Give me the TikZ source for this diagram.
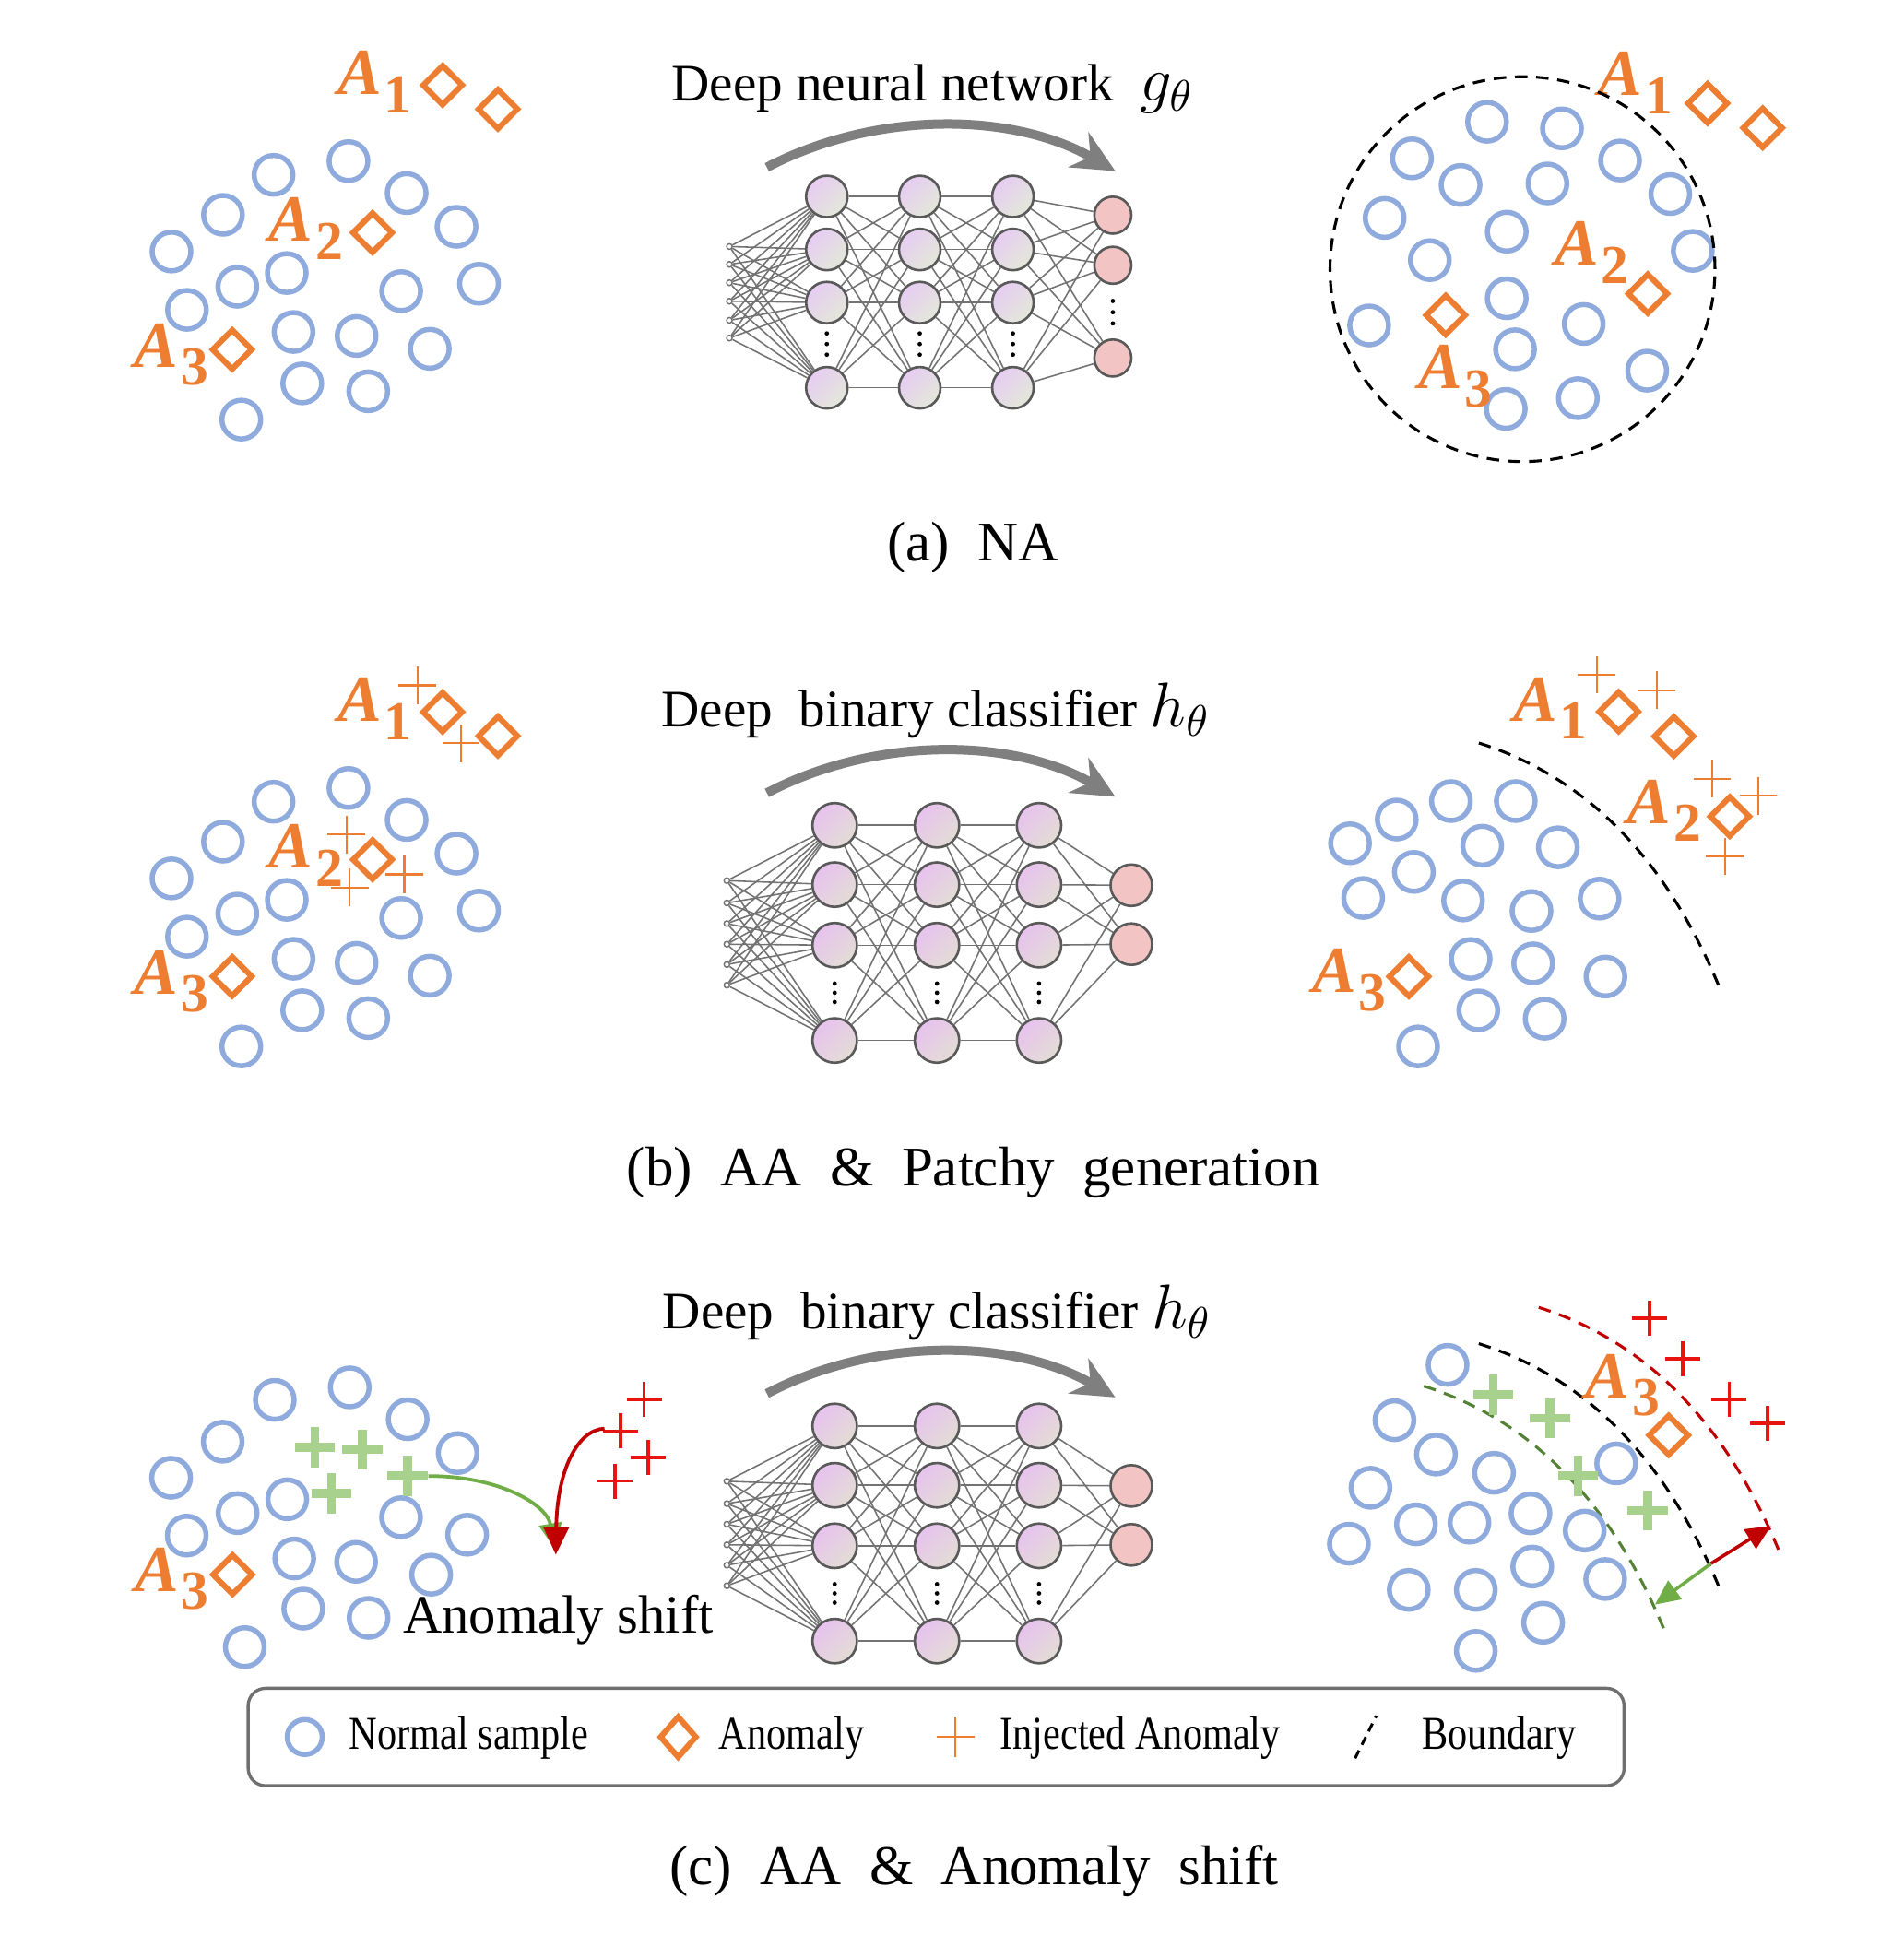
\documentclass[tikz,border=0pt]{standalone}
\usepackage{fontspec}
\setmainfont{Liberation Serif}
\newfontfamily\legendfont[FakeStretch=0.83]{Liberation Serif}
\usetikzlibrary{arrows.meta,shapes.geometric}

\definecolor{nblue}{HTML}{8FAADC}
\definecolor{aorange}{HTML}{ED7D31}
\definecolor{plusgreen}{HTML}{A9D18E}
\definecolor{arrgreen}{HTML}{70AD47}
\definecolor{bndgreen}{HTML}{548235}
\definecolor{darkred}{HTML}{C00000}
\definecolor{plusred}{HTML}{E8140F}
\definecolor{flowgray}{HTML}{7F7F7F}
\definecolor{nnpink}{HTML}{E6CCF2}
\definecolor{nngreen}{HTML}{E3E8D9}
\definecolor{nnpinkb}{HTML}{E7C2EE}
\definecolor{nngreenb}{HTML}{E3DDD5}
\definecolor{nnout}{HTML}{F2C4C4}
\definecolor{nnedge}{HTML}{595959}
\definecolor{wiregray}{HTML}{727272}
\definecolor{legendgray}{HTML}{6F6F6F}

\newcommand{\anomlbl}[1]{\textit{A}\kern0.6pt\raisebox{-0.27em}{\fontsize{12.5}{12}\selectfont #1}}
\newcommand{\bigmath}[1]{{\fontsize{14}{14}\selectfont$#1$}}

\tikzset{
  nsample/.style={circle,draw=nblue,line width=1.15pt,minimum size=0.31cm,inner sep=0},
  anom/.style={diamond,draw=aorange,line width=1.3pt,minimum size=0.33cm,inner sep=0},
  alabel/.style={text=aorange,inner sep=0,anchor=base west,font=\fontsize{15}{18}\selectfont\bfseries},
  inj/.style={draw=aorange,line width=0.45pt},
  gplus/.style={draw=plusgreen,line width=2pt},
  rplus/.style={draw=plusred,line width=0.75pt},
  bound/.style={dash pattern=on 0.1cm off 0.07cm,line width=0.65pt},
  neuron/.style={circle,draw=nnedge,line width=0.55pt,inner sep=0,top color=nnpink,bottom color=nngreen,shading angle=45},
  outn/.style={circle,draw=nnedge,line width=0.55pt,inner sep=0,fill=nnout},
  inpt/.style={circle,draw=wiregray,fill=white,line width=0.3pt,inner sep=0,minimum size=0.045cm},
  wire/.style={draw=wiregray,line width=0.33pt},
  flow/.style={draw=flowgray,line width=2.1pt,-{Stealth[length=0.34cm,width=0.32cm]}},
  nettitle/.style={anchor=base west,inner sep=0,font=\fontsize{12}{14}\selectfont},
  subcap/.style={anchor=base,inner sep=0,font=\fontsize{12.8}{15}\selectfont},
  legtext/.style={anchor=base west,inner sep=0,font=\legendfont\fontsize{10.7}{12}\selectfont},
}

\begin{document}
\begin{tikzpicture}[x=0.01cm,y=-0.01cm]
\path[fill=white] (0,0) rectangle (1524,1568);
\useasboundingbox (0,0) rectangle (1524,1568);

% left data, (a) and (b)
\foreach \p/\dy in {a/0,b/502}{
  \begin{scope}[shift={(0,\dy)}]
    \foreach \x/\y [count=\k] in {219/140,279/129,178.5/172,325.6/154.6,365.5/181.6,137.3/201.4,190/229.6,229.6/218.6,321.2/233.1,383.5/227.2,149.7/248.1,235/265.8,285.5/269,344.1/279.3,242/307,294.8/313.3,193.2/336}
      \node[nsample] (\p-l-\k) at (\x,\y) {};
    \node[anom] (\p-ld-1) at (354.4,68.2) {};
    \node[anom] (\p-ld-2) at (398.7,87.4) {};
    \node[anom] (\p-ld-3) at (298.3,186.3) {};
    \node[anom] (\p-ld-4) at (185.9,279.9) {};
    \node[alabel] (\p-ll-1) at (269.5,76) {\anomlbl{1}};
    \node[alabel] (\p-ll-2) at (214.7,193.2) {\anomlbl{2}};
    \node[alabel] (\p-ll-3) at (107,294.1) {\anomlbl{3}};
  \end{scope}
}
\foreach \x/\y in {334.2/548.9,369.2/595.2,277.4/668.3,280.1/710.6,323.7/700.2}
  \draw[inj] (\x,\y) +(-15,0) -- +(15,0) +(0,-15) -- +(0,15);

% network (a)
\foreach \i/\y in {1/197.4,2/211.7,3/226.4,4/241.2,5/256.5,6/270.7}
  \node[inpt] (a-in-\i) at (584,\y) {};
\foreach \l/\x in {1/662,2/736.4,3/811}
  \foreach \i/\y in {1/157.3,2/199.8,3/242.3,4/310.5}
    \node[neuron,minimum size=0.332cm] (a-h\l-\i) at (\x,\y) {};
\foreach \i/\y in {1/172.3,2/212.4,3/286.7}
  \node[outn,minimum size=0.296cm] (a-o-\i) at (891,\y) {};
\foreach \i in {1,...,6} \foreach \j in {1,...,4} \draw[wire] (a-in-\i) -- (a-h1-\j);
\foreach \l/\m in {1/2,2/3} \foreach \i in {1,...,4} \foreach \j in {1,...,4} \draw[wire] (a-h\l-\i) -- (a-h\m-\j);
\foreach \i in {1,...,4} \foreach \j in {1,...,3} \draw[wire] (a-h3-\i) -- (a-o-\j);
\foreach \x in {662,736.4,811} \foreach \y in {267,275.5,284} \fill (\x,\y) circle [radius=0.5pt];
\foreach \y in {241,250,259} \fill (891,\y) circle [radius=0.5pt];
\coordinate (a-fs) at (614,134);
\coordinate (a-fe) at (893,137);
\draw[flow] (a-fs) .. controls (700,89) and (810,89) .. (a-fe);
\node[nettitle] (a-title) at (537,81) {Deep neural network~~\bigmath{g_\theta}};

% networks (b) and (c)
\foreach \p/\dy in {b/0,c/481}{
  \begin{scope}[shift={(0,\dy)}]
    \foreach \i/\y in {1/705.2,2/723.1,3/739.6,4/756.1,5/772.4,6/788.9}
      \node[inpt] (\p-in-\i) at (582,\y) {};
    \foreach \l/\x in {1/668.3,2/750.2,3/831.9}
      \foreach \i/\y in {1/660.9,2/708.4,3/756.9,4/833.2}
        \node[neuron,top color=nnpinkb,bottom color=nngreenb,shading angle=45,minimum size=0.356cm] (\p-h\l-\i) at (\x,\y) {};
    \foreach \i/\y in {1/708.9,2/756.1}
      \node[outn,minimum size=0.332cm] (\p-o-\i) at (905.8,\y) {};
    \foreach \i in {1,...,6} \foreach \j in {1,...,4} \draw[wire] (\p-in-\i) -- (\p-h1-\j);
    \foreach \l/\m in {1/2,2/3} \foreach \i in {1,...,4} \foreach \j in {1,...,4} \draw[wire] (\p-h\l-\i) -- (\p-h\m-\j);
    \foreach \i in {1,...,4} \foreach \j in {1,2} \draw[wire] (\p-h3-\i) -- (\p-o-\j);
    \foreach \x in {668.3,750.2,831.9} \foreach \y in {787.6,795,802.4} \fill (\x,\y) circle [radius=0.5pt];
    \coordinate (\p-fs) at (614,635);
    \coordinate (\p-fe) at (893,638);
    \draw[flow] (\p-fs) .. controls (700,590) and (810,590) .. (\p-fe);
  \end{scope}
}
\node[nettitle] (b-title) at (529,582) {Deep~~binary classifier \bigmath{h_\theta}};
\node[nettitle] (c-title) at (530,1064) {Deep~~binary classifier \bigmath{h_\theta}};

% right (a)
\foreach \x/\y [count=\k] in {1190.6/97.5,1250.6/102.8,1130.5/126.8,1169.4/148.1,1239/146.9,1297.1/128.5,1337.3/155.4,1108.6/174.5,1206.4/185.5,1144.8/208.3,1355.3/200.9,1206.4/238.8,1096.2/260.6,1268/259.4,1213/279.7,1318.8/296.8,1263.3/318.8,1205.6/327.4}
  \node[nsample] (a-r-\k) at (\x,\y) {};
\node[anom] (a-rd-1) at (1367.2,82.8) {};
\node[anom] (a-rd-2) at (1411.3,102.4) {};
\node[anom] (a-rd-3) at (1319.3,235.2) {};
\node[anom] (a-rd-4) at (1157.5,252.3) {};
\node[alabel] (a-rl-1) at (1279.1,76.7) {\anomlbl{1}};
\node[alabel] (a-rl-2) at (1244.2,212.4) {\anomlbl{2}};
\node[alabel] (a-rl-3) at (1135,311.5) {\anomlbl{3}};
\draw[bound] (1219,215.5) circle [radius=1.54cm];

% right (b)
\foreach \x/\y [count=\k] in {1161.7/641.5,1213.6/641.5,1118.3/656.3,1080.9/675.3,1186.7/677.2,1247.3/678.5,1132/698.2,1091.4/719.1,1171.4/721.1,1226.2/729.5,1280.7/719.6,1177.5/767.9,1227.5/771.4,1285.4/782,1183.6/809.1,1236.7/815.8,1135.4/838}
  \node[nsample] (b-r-\k) at (\x,\y) {};
\node[anom] (b-rd-1) at (1296,570) {};
\node[anom] (b-rd-2) at (1340.2,589.7) {};
\node[anom] (b-rd-3) at (1385,653.8) {};
\node[anom] (b-rd-4) at (1128,782) {};
\node[alabel] (b-rl-1) at (1210.9,577.4) {\anomlbl{1}};
\node[alabel] (b-rl-2) at (1302,659.5) {\anomlbl{2}};
\node[alabel] (b-rl-3) at (1049.8,795) {\anomlbl{3}};
\foreach \x/\y in {1278.3/540.4,1326.3/552.7,1371/623.5,1407.9/637.3,1381/685.9}
  \draw[inj] (\x,\y) +(-15,0) -- +(15,0) +(0,-15) -- +(0,15);
\draw[bound] (1184,595) .. controls (1270,622) and (1335,688) .. (1378,794);

% left (c)
\foreach \x/\y [count=\k] in {220/1121,280/1111,178.3/1154.5,326.4/1136.5,366.4/1163.6,137/1183.4,190.2/1211.7,230/1200.6,321.1/1215,374/1229,149.5/1229.7,235.6/1248,285.1/1250.7,345.2/1261,242.8/1288.2,295.1/1295.6,196/1319}
  \node[nsample] (c-l-\k) at (\x,\y) {};
\node[anom] (c-ld-3) at (186.2,1261) {};
\node[alabel] (c-ll-3) at (107.3,1274.6) {\anomlbl{3}};
\foreach \x/\y in {252/1159,290/1161,326.4/1182,265.4/1196}
  \draw[gplus] (\x,\y) +(-16,0) -- +(16,0) +(0,-16) -- +(0,16);
\foreach \x/\y in {515.8/1120.5,497/1146,519/1167,492.3/1186}
  \draw[rplus] (\x,\y) +(-14,0) -- +(14,0) +(0,-14) -- +(0,14);
\coordinate (c-gs) at (343,1182);
\coordinate (c-ge) at (444,1240);
\draw[arrgreen,line width=0.8pt,-{Triangle[length=0.2cm,width=0.18cm]}] (c-gs) .. controls (400,1182) and (438,1205) .. (c-ge);
\coordinate (c-rs) at (484,1144);
\coordinate (c-re) at (445,1245);
\draw[darkred,line width=0.8pt,-{Triangle[length=0.22cm,width=0.2cm]}] (c-rs) .. controls (462,1145) and (446,1178) .. (c-re);
\node[anchor=base west,inner sep=0,font=\fontsize{12.3}{14}\selectfont] (c-shift) at (322,1308) {Anomaly shift};

% right (c)
\draw[bound] (1184,1076) .. controls (1270,1103) and (1335,1169) .. (1378,1275);
\draw[bound,bndgreen] (1140,1110) .. controls (1226,1137) and (1291,1203) .. (1334,1309);
\draw[bound,darkred] (1232,1047) .. controls (1318,1074) and (1383,1140) .. (1426,1246);
\foreach \x/\y [count=\k] in {1159/1093,1116.5/1137.3,1149.7/1164.8,1196.2/1179.4,1294/1171.9,1097.3/1191.4,1133.7/1220.7,1176.5/1219.4,1225.4/1211.9,1268.8/1225.7,1080/1236.2,1285.2/1264.5,1127.9/1273.2,1181.6/1273.2,1226.8/1254.5,1235.5/1299.5,1181.6/1322}
  \node[nsample] (c-r-\k) at (\x,\y) {};
\foreach \x/\y in {1195.7/1116.8,1240.9/1135.6,1263.4/1181.9,1319.3/1209.4}
  \draw[gplus] (\x,\y) +(-16,0) -- +(16,0) +(0,-16) -- +(0,16);
\foreach \x/\y in {1320.6/1055.5,1347.2/1088,1384.4/1120.5,1415/1139.8}
  \draw[rplus] (\x,\y) +(-14,0) -- +(14,0) +(0,-14) -- +(0,14);
\node[anom] (c-rd-3) at (1336,1149.3) {};
\node[alabel] (c-rl-3) at (1268.8,1119.3) {\anomlbl{3}};
\coordinate (c-piv) at (1370,1252);
\coordinate (c-rt) at (1418,1222);
\coordinate (c-gt) at (1325,1285);
\draw[darkred,line width=0.75pt,-{Triangle[length=0.2cm,width=0.18cm]}] (c-piv) -- (c-rt);
\draw[arrgreen,line width=0.75pt,-{Triangle[length=0.2cm,width=0.18cm]}] (c-piv) -- (c-gt);

% legend
\node[draw=legendgray,line width=0.7pt,rounded corners=0.14cm,minimum width=11.01cm,minimum height=0.78cm,inner sep=0] (legend) at (749.5,1391) {};
\node[nsample,minimum size=0.28cm] (lg-n) at (244,1391) {};
\node[legtext] (lg-nt) at (279,1401) {Normal sample};
\node[anom,minimum width=0.3cm,minimum height=0.34cm] (lg-a) at (543,1391) {};
\node[legtext] (lg-at) at (575,1401) {Anomaly};
\draw[inj] (765,1391) +(-15,0) -- +(15,0) +(0,-16) -- +(0,16);
\node[legtext] (lg-it) at (800,1401) {Injected Anomaly};
\draw[bound,dash pattern=on 0.07cm off 0.05cm] (1085,1408) -- (1102,1374);
\node[legtext] (lg-bt) at (1138,1401) {Boundary};

% captions
\node[subcap] (a-cap) at (779,449) {(a)~~NA};
\node[subcap] (b-cap) at (779.5,950) {(b)~~AA~~\&~~Patchy~~generation};
\node[subcap] (c-cap) at (780,1509) {(c)~~AA~~\&~~Anomaly~~shift};
\end{tikzpicture}
\end{document}
